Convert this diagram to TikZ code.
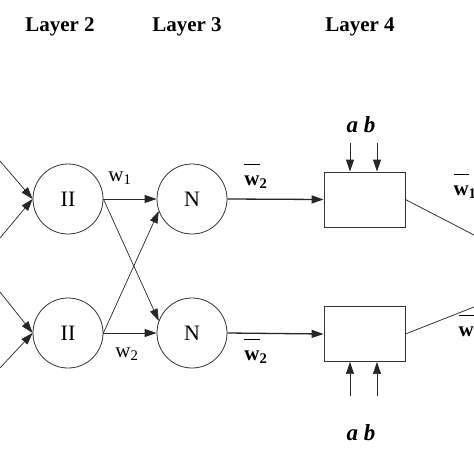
\documentclass[tikz,border=0pt]{standalone}
\usepackage{amsmath}
\usepackage{fontspec}
\setmainfont{Liberation Serif}
\usepackage{tikz}
\usetikzlibrary{arrows.meta, positioning}

\newcommand{\wbar}[1]{$\overline{\rule{0pt}{0.85em}\text{\bfseries w}}_{\text{\bfseries #1}}$}

\begin{document}
\begin{tikzpicture}[
  x=1pt, y=-1pt,
  neuron/.style = {
    circle, draw=black!80, line width=0.8pt,
    minimum size=70pt, inner sep=0pt,
    font=\fontsize{22}{24}\selectfont
  },
  rbox/.style = {
    rectangle, draw=black!80, line width=0.9pt,
    minimum width=81pt, minimum height=55pt, inner sep=0pt
  },
  arr/.style = {-{Triangle[length=12pt, width=8pt]}, line width=1pt, black!85},
  thin arr/.style = {arr, line width=0.7pt},
  layer/.style = {font=\fontsize{21}{24}\selectfont\bfseries},
  wlbl/.style = {font=\fontsize{21}{23}\selectfont},
  ab/.style = {font=\fontsize{23}{25}\selectfont\bfseries\itshape}
]
\useasboundingbox (0,0) rectangle (474,474);
\clip (0,0) rectangle (474,474);

% layer titles
\node[layer] (l2) at (60,27)  {Layer 2};
\node[layer] (l3) at (187,27) {Layer 3};
\node[layer] (l4) at (360,27) {Layer 4};

% neurons
\node[neuron] (p1) at (68,199)  {II};
\node[neuron] (p2) at (68,333)  {II};
\node[neuron] (n1) at (192,199) {N};
\node[neuron] (n2) at (192,333) {N};

\node[rbox] (r1) at (364.5,199.5) {};
\node[rbox] (r2) at (364.5,334)   {};

% loose ends
\coordinate (in1) at (0,161);
\coordinate (in2) at (0,238);
\coordinate (in3) at (0,292);
\coordinate (in4) at (0,368);
\coordinate (out1) at (474,235);
\coordinate (out2) at (474,307);
\coordinate (ta) at (350,143);
\coordinate (tb) at (377,143);
\coordinate (ba) at (350,396);
\coordinate (bb) at (377,396);

% inputs of layer 2
\draw[thin arr] (in1) -- (p1.west);
\draw[thin arr] (in2) -- (p1.west);
\draw[thin arr] (in3) -- (p2.west);
\draw[thin arr] (in4) -- (p2.west);

% layer 2 -> layer 3
\draw[arr] (p1.east) -- (n1.west);
\draw[arr] (p2.east) -- (n2.west);
\draw[thin arr] (p1.east) -- (n2.160);
\draw[thin arr] (p2.east) -- (n1.200);

% layer 3 -> layer 4
\draw[arr, line width=1.3pt] (n1.east) -- (r1.west);
\draw[arr, line width=1.3pt] (n2.east) -- (r2.west);

% a, b inputs
\draw[arr] (ta) -- (ta |- r1.north);
\draw[arr] (tb) -- (tb |- r1.north);
\draw[thin arr] (ba) -- (ba |- r2.south);
\draw[thin arr] (bb) -- (bb |- r2.south);
\node[ab] (ab1) at (361,125) {a b};
\node[ab] (ab2) at (361,433) {a b};

% outputs
\draw[line width=0.8pt, black!80] (r1.east) -- (out1);
\draw[line width=0.8pt, black!80] (r2.east) -- (out2);

% weights
\node[wlbl] (w1) at (120,178) {w\textsubscript{1}};
\node[wlbl] (w2) at (127,354) {w\textsubscript{2}};
\node[wlbl] (wb1) at (256,176) {\wbar{2}};
\node[wlbl] (wb2) at (256,351) {\wbar{2}};
\node[wlbl, anchor=west] (wb3) at (450,186) {\wbar{1}};
\node[wlbl, anchor=west] (wb4) at (455,327) {\wbar{1}};
\end{tikzpicture}
\end{document}
